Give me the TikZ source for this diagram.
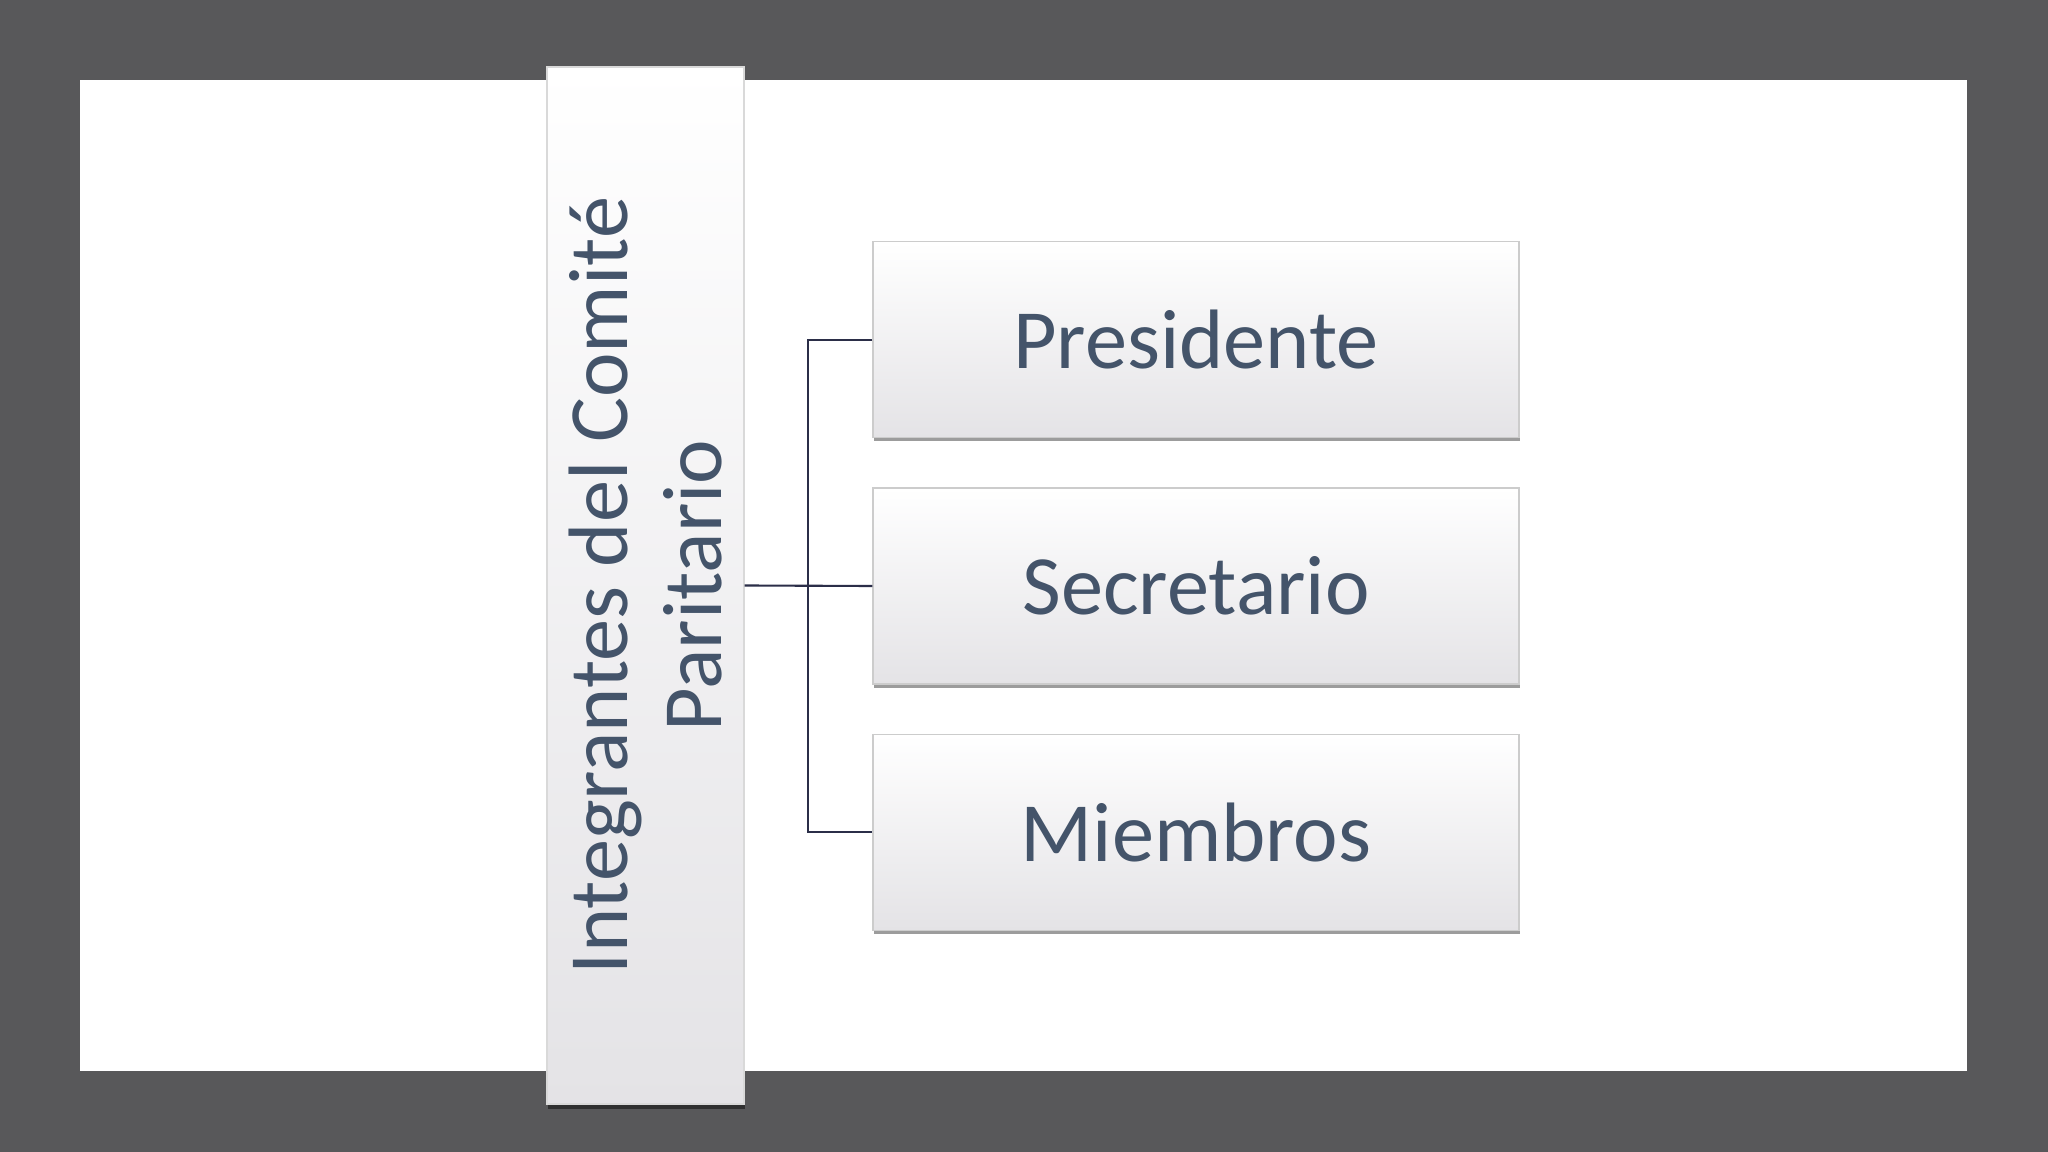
\documentclass[tikz,border=0pt]{standalone}
\usepackage{fontspec}
\setmainfont{Carlito}
\usepackage{tikz}
\usetikzlibrary{positioning,shadows}
\definecolor{slidegray}{HTML}{58585A}
\definecolor{textblue}{HTML}{44546A}
\definecolor{boxgray}{HTML}{E4E3E6}
\definecolor{linenavy}{HTML}{2B2E48}
\tikzset{
    node distance = 0.49cm and 1cm,
    panel/.style = {rectangle, minimum width=1.97cm, minimum height=10.37cm, inner sep=0pt,
        top color=white, bottom color=boxgray, draw=gray!30,
        drop shadow={shadow xshift=0.1mm, shadow yshift=-0.5mm, fill=black, opacity=0.45}},
    vtitle/.style = {rotate=90, align=center, text=textblue, font=\fontsize{24}{27}\selectfont},
    role/.style = {rectangle, minimum width=6.46cm, minimum height=1.96cm, inner sep=0pt,
        top color=white, middle color=white, bottom color=boxgray, draw=gray!40,
        drop shadow={shadow xshift=0.1mm, shadow yshift=-0.35mm, fill=black!70, opacity=0.55},
        text=textblue, font=\fontsize{24}{28}\selectfont},
    link/.style = {draw=linenavy, line width=0.6pt}
}
\begin{document}
\begin{tikzpicture}
    % Slide background
    \fill[slidegray] (0,0) rectangle (20.48,-11.52);
    \fill[white] (0.80,-0.80) rectangle (19.67,-10.71);
    \useasboundingbox (0,0) rectangle (20.48,-11.52);

    % Title bar
    \node[panel] (bar) at (6.455,-5.855) {};
    \node[vtitle] (title) at (bar) {Integrantes del Comité\\Paritario};

    % Roles
    \node[role] (sec) at (11.96,-5.86) {Secretario};
    \node[role] (pres) [above =of sec] {Presidente};
    \node[role] (miem) [below =of sec] {Miembros};

    % Connectors
    \coordinate (bus) at (8.08,-5.86);
    \draw[link] (bar.east) -- (sec.west);
    \draw[link] (pres.west) -| (bus) |- (miem.west);
\end{tikzpicture}
\end{document}
